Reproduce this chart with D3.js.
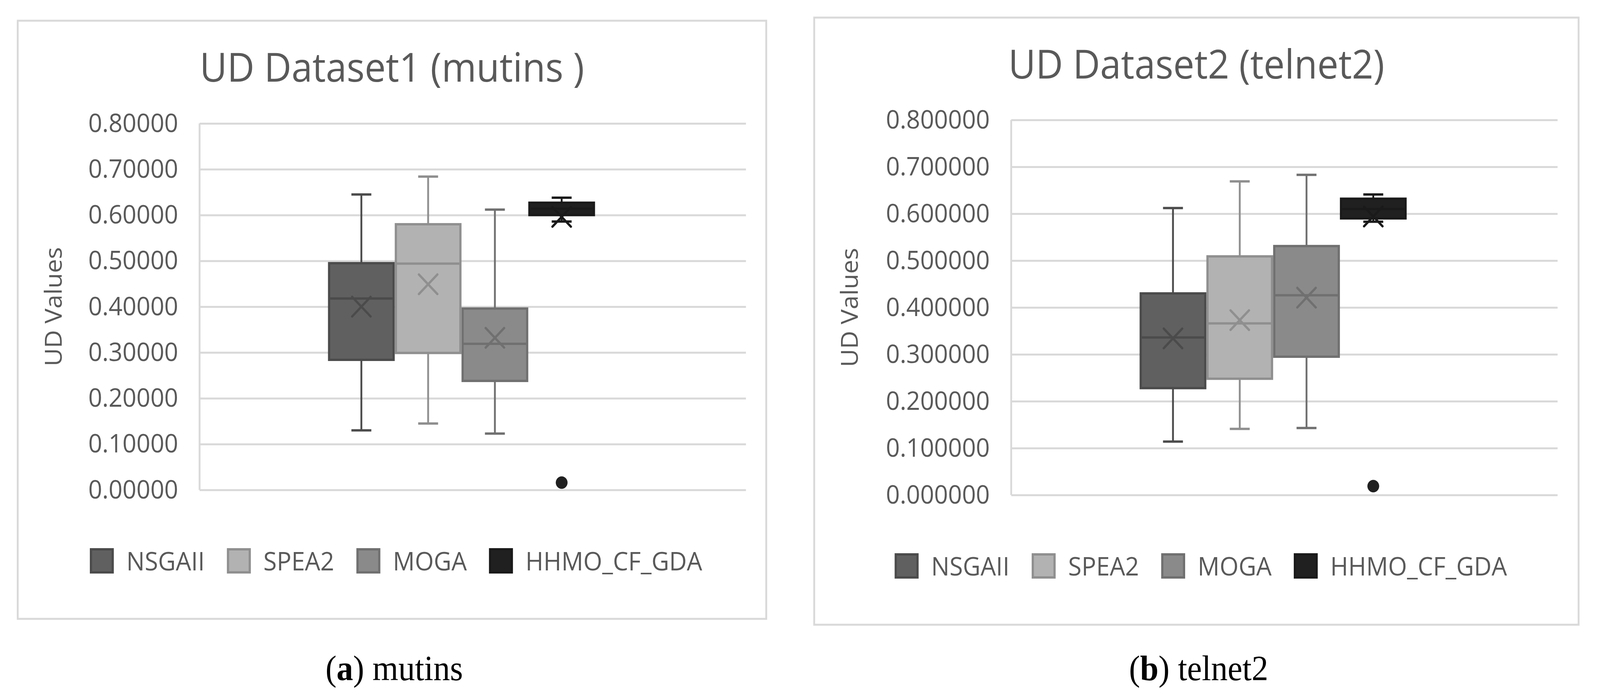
<!DOCTYPE html>
<html>
<head>
<meta charset="utf-8">
<script src="https://cdnjs.cloudflare.com/ajax/libs/d3/7.8.5/d3.min.js"></script>
<style>
  html, body { margin: 0; padding: 0; background: #ffffff; overflow: hidden; }
  svg { display: block; }
</style>
</head>
<body>
<div id="chart"></div>
<script>
// series shared by both panels
var series = ["NSGAII", "SPEA2", "MOGA", "HHMO_CF_GDA"];

// (a) mutins - five number summary, mean and outliers per series
var mutinsMin    = [0.130, 0.145, 0.123, 0.586];
var mutinsQ1     = [0.284, 0.299, 0.238, 0.600];
var mutinsMedian = [0.418, 0.494, 0.319, 0.614];
var mutinsQ3     = [0.495, 0.580, 0.396, 0.627];
var mutinsMax    = [0.645, 0.684, 0.612, 0.638];
var mutinsMean   = [0.400, 0.449, 0.332, 0.596];
var mutinsOutliers = [[], [], [], [0.016]];

// (b) telnet2
var telnetMin    = [0.114, 0.141, 0.143, 0.583];
var telnetQ1     = [0.228, 0.248, 0.295, 0.590];
var telnetMedian = [0.336, 0.366, 0.426, 0.610];
var telnetQ3     = [0.430, 0.509, 0.531, 0.632];
var telnetMax    = [0.612, 0.669, 0.683, 0.641];
var telnetMean   = [0.334, 0.373, 0.421, 0.594];
var telnetOutliers = [[], [], [], [0.019]];

// y ticks
var yTicks = [0, 0.1, 0.2, 0.3, 0.4, 0.5, 0.6, 0.7, 0.8];

var fills   = ["#606060", "#b2b2b2", "#8a8a8a", "#202020"];
var strokes = ["#4b4b4b", "#8f8f8f", "#707070", "#1a1a1a"];
var grey = "#595959";
var gridColor = "#d9d9d9";
var sansFont = "'Open Sans', 'Noto Sans', sans-serif";

var W = 4337, H = 1784;

// stretch the drawing over the whole window
var svg = d3.select("#chart").append("svg")
    .attr("viewBox", "0 0 " + W + " " + H)
    .attr("preserveAspectRatio", "none")
    .style("width", "100vw")
    .style("height", "100vh");

function buildRows(mins, q1s, meds, q3s, maxs, means, outs) {
    return series.map(function(s, i) {
        return { name: s, min: mins[i], q1: q1s[i], median: meds[i], q3: q3s[i],
                 max: maxs[i], mean: means[i], outliers: outs[i], idx: i };
    });
}

function drawPanel(cfg) {
    var g = svg.append("g");
    var frame = cfg.frame;

    // outer chart border
    g.append("rect")
        .attr("x", frame.x).attr("y", frame.y)
        .attr("width", frame.w).attr("height", frame.h)
        .attr("fill", "#fff")
        .attr("stroke", gridColor)
        .attr("stroke-width", 5);

    var cx = frame.x + frame.w / 2;

    // title
    g.append("text")
        .attr("x", cx).attr("y", cfg.titleY)
        .attr("text-anchor", "middle")
        .style("font-family", sansFont)
        .style("font-size", "102px")
        .attr("fill", grey)
        .text(cfg.title);

    var p = cfg.plot;
    var y = d3.scaleLinear().domain([0, 0.8]).range([p.bottom, p.top]);
    var plotW = p.right - p.left;

    // gridlines
    g.append("g")
        .attr("transform", "translate(" + p.left + ",0)")
        .call(d3.axisLeft(y).tickValues(yTicks).tickSize(-plotW).tickFormat(""))
        .call(function(a) {
            a.select(".domain").remove();
            a.selectAll("line").attr("stroke", gridColor).attr("stroke-width", 5);
        });

    // vertical axis line
    g.append("line")
        .attr("x1", p.left).attr("x2", p.left)
        .attr("y1", y(0.8)).attr("y2", y(0))
        .attr("stroke", gridColor).attr("stroke-width", 5);

    // tick labels
    g.append("g")
        .attr("transform", "translate(" + p.left + ",0)")
        .call(d3.axisLeft(y).tickValues(yTicks).tickSize(0).tickPadding(58)
              .tickFormat(d3.format(cfg.fmt)))
        .call(function(a) {
            a.select(".domain").remove();
            a.selectAll("text")
                .attr("fill", grey)
                .style("font-family", sansFont)
                .style("font-size", "66px");
        });

    // axis title
    g.append("text")
        .attr("transform", "translate(" + cfg.axisTitleX + "," + (p.top + p.bottom) / 2 + ") rotate(-90)")
        .attr("text-anchor", "middle")
        .style("font-family", sansFont)
        .style("font-size", "64px")
        .attr("fill", grey)
        .text("UD Values");

    // boxes
    var x = d3.scaleBand()
        .domain(series)
        .range([p.left + plotW * 0.235, p.left + plotW * 0.7238])
        .padding(0);
    var bw = x.bandwidth();

    var boxes = g.selectAll(".box")
        .data(cfg.rows)
        .enter().append("g")
        .attr("class", "box")
        .attr("transform", function(d) { return "translate(" + (x(d.name) + bw / 2) + ",0)"; });

    // whiskers
    boxes.append("line")
        .attr("x1", 0).attr("x2", 0)
        .attr("y1", function(d) { return y(d.max); })
        .attr("y2", function(d) { return y(d.q3); })
        .attr("stroke", function(d) { return strokes[d.idx]; })
        .attr("stroke-width", 5);
    boxes.append("line")
        .attr("x1", 0).attr("x2", 0)
        .attr("y1", function(d) { return y(d.q1); })
        .attr("y2", function(d) { return y(d.min); })
        .attr("stroke", function(d) { return strokes[d.idx]; })
        .attr("stroke-width", 5);
    // caps
    ["max", "min"].forEach(function(k) {
        boxes.append("line")
            .attr("x1", -27).attr("x2", 27)
            .attr("y1", function(d) { return y(d[k]); })
            .attr("y2", function(d) { return y(d[k]); })
            .attr("stroke", function(d) { return strokes[d.idx]; })
            .attr("stroke-width", 6);
    });

    boxes.append("rect")
        .attr("x", -bw / 2 + 3)
        .attr("width", bw - 6)
        .attr("y", function(d) { return y(d.q3); })
        .attr("height", function(d) { return y(d.q1) - y(d.q3); })
        .attr("fill", function(d) { return fills[d.idx]; })
        .attr("stroke", function(d) { return strokes[d.idx]; })
        .attr("stroke-width", 6);

    // median
    boxes.append("line")
        .attr("x1", -bw / 2 + 3).attr("x2", bw / 2 - 3)
        .attr("y1", function(d) { return y(d.median); })
        .attr("y2", function(d) { return y(d.median); })
        .attr("stroke", function(d) { return strokes[d.idx]; })
        .attr("stroke-width", 6);

    // mean marker (x)
    boxes.append("path")
        .attr("d", function(d) {
            var m = y(d.mean), r = 25;
            return "M" + (-r) + "," + (m - r) + "L" + r + "," + (m + r) +
                   "M" + r + "," + (m - r) + "L" + (-r) + "," + (m + r);
        })
        .attr("stroke", function(d) { return strokes[d.idx]; })
        .attr("stroke-width", 6)
        .attr("stroke-linecap", "round")
        .attr("fill", "none");

    // outliers
    boxes.selectAll(".outlier")
        .data(function(d) { return d.outliers.map(function(v) { return { v: v, idx: d.idx }; }); })
        .enter().append("circle")
        .attr("class", "outlier")
        .attr("cx", 0)
        .attr("cy", function(d) { return y(d.v); })
        .attr("r", 16)
        .attr("fill", function(d) { return fills[d.idx]; });

    // legend
    var legend = g.append("g");
    var lx = 0;
    series.forEach(function(s, i) {
        var item = legend.append("g").attr("transform", "translate(" + lx + ",0)");
        item.append("rect")
            .attr("x", 3).attr("y", -30)
            .attr("width", 59).attr("height", 59)
            .attr("fill", fills[i])
            .attr("stroke", strokes[i])
            .attr("stroke-width", 6);
        var t = item.append("text")
            .attr("x", 99).attr("y", 0).attr("dy", "0.36em")
            .style("font-family", sansFont)
            .style("font-size", "66px")
            .attr("fill", grey)
            .text(s);
        lx += 99 + t.node().getComputedTextLength() + 60;
    });
    var legendW = lx - 60;
    legend.attr("transform", "translate(" + (cx + cfg.legendShift - legendW / 2) + "," + cfg.legendY + ")");

    // caption below the chart
    var cap = svg.append("text")
        .attr("x", cx + 6).attr("y", 1741)
        .attr("text-anchor", "middle")
        .style("font-family", "'Liberation Serif', 'DejaVu Serif', serif")
        .style("font-size", "90px")
        .attr("fill", "#000");
    cap.append("tspan").text("(");
    cap.append("tspan").style("font-weight", "bold").text(cfg.letter);
    cap.append("tspan").text(") " + cfg.caption);
}

drawPanel({
    frame: { x: 48, y: 53, w: 2029, h: 1531 },
    plot: { left: 541, right: 2022, top: 316, bottom: 1254 },
    title: "UD Dataset1 (mutins )",
    titleY: 209,
    fmt: ".5f",
    axisTitleX: 167,
    legendY: 1436,
    legendShift: 11,
    letter: "a",
    caption: "mutins",
    rows: buildRows(mutinsMin, mutinsQ1, mutinsMedian, mutinsQ3, mutinsMax, mutinsMean, mutinsOutliers)
});

drawPanel({
    frame: { x: 2207, y: 45, w: 2072, h: 1554 },
    plot: { left: 2741, right: 4222, top: 307, bottom: 1267 },
    title: "UD Dataset2 (telnet2)",
    titleY: 201,
    fmt: ".6f",
    axisTitleX: 2325,
    legendY: 1449,
    legendShift: 12,
    letter: "b",
    caption: "telnet2",
    rows: buildRows(telnetMin, telnetQ1, telnetMedian, telnetQ3, telnetMax, telnetMean, telnetOutliers)
});
</script>
</body>
</html>
